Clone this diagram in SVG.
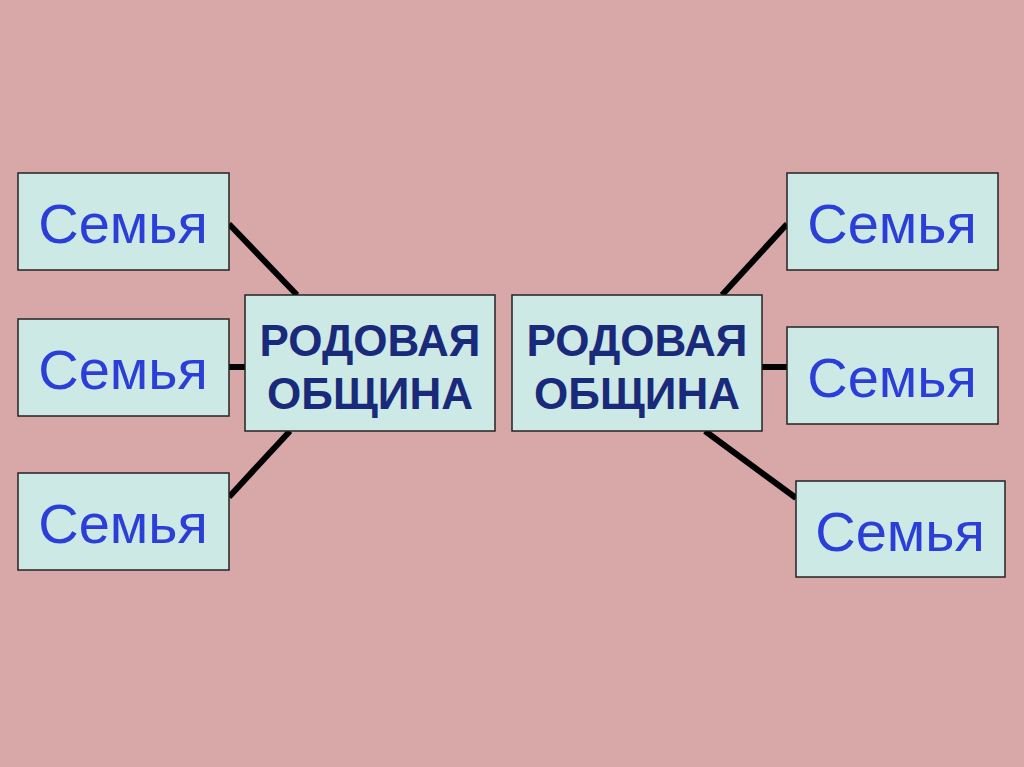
<svg xmlns="http://www.w3.org/2000/svg" width="1024" height="767" viewBox="0 0 1024 767">
<style>
.b{fill:#cde9e6;stroke:#222;stroke-width:1.5}
.s{font-family:"Liberation Sans",Arial,sans-serif;font-size:56px;fill:#2b3fd8;text-anchor:middle}
.r{font-family:"Liberation Sans",Arial,sans-serif;font-size:44px;font-weight:bold;fill:#1a2a7a;text-anchor:middle}
.c{stroke:#000;stroke-width:6}
</style>
<rect width="1024" height="767" fill="#d8a8a8"/>
<g id="connectors">
<line class="c" x1="229" y1="224" x2="297" y2="295"/>
<line class="c" x1="229" y1="367" x2="245" y2="367"/>
<line class="c" x1="229" y1="497" x2="290" y2="431"/>
<line class="c" x1="787" y1="224" x2="722" y2="295"/>
<line class="c" x1="762" y1="367" x2="787" y2="367"/>
<line class="c" x1="705" y1="431" x2="796" y2="498"/>
</g>
<g id="l1"><rect class="b" x="18" y="173" width="211" height="97"/><text class="s" x="123" y="243">Семья</text></g>
<g id="l2"><rect class="b" x="18" y="319" width="211" height="97"/><text class="s" x="123" y="389">Семья</text></g>
<g id="l3"><rect class="b" x="18" y="473" width="211" height="97"/><text class="s" x="123" y="543">Семья</text></g>
<g id="c1"><rect class="b" x="245" y="295" width="250" height="136"/><text class="r" x="370" y="356">РОДОВАЯ</text><text class="r" x="370" y="409">ОБЩИНА</text></g>
<g id="c2"><rect class="b" x="512" y="295" width="250" height="136"/><text class="r" x="637" y="356">РОДОВАЯ</text><text class="r" x="637" y="409">ОБЩИНА</text></g>
<g id="r1"><rect class="b" x="787" y="173" width="211" height="97"/><text class="s" x="892" y="243">Семья</text></g>
<g id="r2"><rect class="b" x="787" y="327" width="211" height="97"/><text class="s" x="892" y="397">Семья</text></g>
<g id="r3"><rect class="b" x="796" y="481" width="209" height="96"/><text class="s" x="900" y="551">Семья</text></g>
</svg>
